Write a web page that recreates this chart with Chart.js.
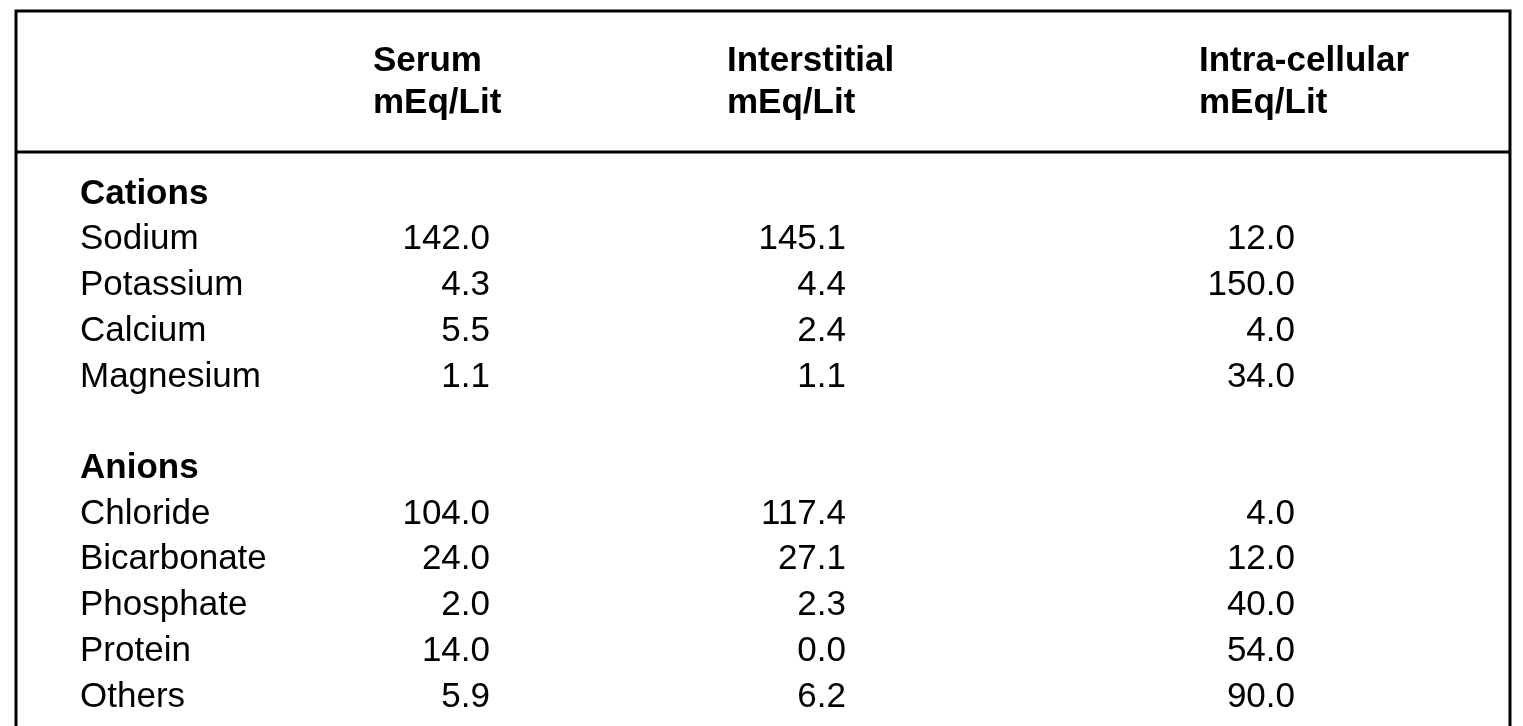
<!DOCTYPE html>
<html><head><meta charset="utf-8">
<script src="https://cdn.jsdelivr.net/npm/chart.js@4"></script>
<style>html,body{margin:0;padding:0;background:#fff}#w{width:1523px;height:726px}</style>
</head><body><div id="w"><canvas id="c"></canvas></div>
<script>
const columns = ['Serum', 'Interstitial', 'Intra-cellular'];
const unitLabel = 'mEq/Lit';
const rows = ['Cations','Sodium','Potassium','Calcium','Magnesium','','Anions','Chloride','Bicarbonate','Phosphate','Protein','Others'];
const groupRows = ['Cations','Anions'];
const serum = [null,142.0,4.3,5.5,1.1,null,null,104.0,24.0,2.0,14.0,5.9];
const interstitial = [null,145.1,4.4,2.4,1.1,null,null,117.4,27.1,2.3,0.0,6.2];
const intracellular = [null,12.0,150.0,4.0,34.0,null,null,4.0,12.0,40.0,54.0,90.0];
const seriesList = [serum, interstitial, intracellular];

// layout (styling only)
const labelX = 80, valueRight = [490, 846, 1295], headerLeft = [373, 727, 1199];
const font = '"Liberation Sans", Arial, sans-serif';

const tablePlugin = {
  id: 'table',
  afterDraw(chart) {
    const ctx = chart.ctx, ys = chart.scales.y;
    ctx.save();
    ctx.strokeStyle = '#000'; ctx.lineWidth = 3;
    ctx.beginPath();
    ctx.moveTo(16, 730); ctx.lineTo(16, 11); ctx.lineTo(1510, 11); ctx.lineTo(1510, 730);
    ctx.moveTo(16, 152); ctx.lineTo(1510, 152);
    ctx.stroke();
    ctx.fillStyle = '#000'; ctx.textBaseline = 'middle';
    ctx.font = 'bold 35px ' + font; ctx.textAlign = 'left';
    columns.forEach((c, i) => {
      ctx.fillText(c, headerLeft[i], 61);
      ctx.fillText(unitLabel, headerLeft[i], 103);
    });
    rows.forEach((r, i) => {
      if (!r) return;
      const y = ys.getPixelForValue(i);
      ctx.textAlign = 'left';
      ctx.font = (groupRows.includes(r) ? 'bold ' : '') + '35px ' + font;
      ctx.fillText(r, labelX, y);
    });
    ctx.font = '35px ' + font; ctx.textAlign = 'right';
    chart.data.datasets.forEach((ds, di) => {
      ds.data.forEach(p => {
        if (p.v == null) return;
        ctx.fillText(p.v.toFixed(1), valueRight[di], ys.getPixelForValue(p.y));
      });
    });
    ctx.restore();
  }
};

new Chart(document.getElementById('c'), {
  type: 'scatter',
  data: {
    datasets: seriesList.map((s, di) => ({
      label: columns[di],
      data: s.map((v, i) => ({ x: di, y: i, v })).filter(p => p.v != null),
      pointRadius: 0
    }))
  },
  options: {
    responsive: true, maintainAspectRatio: false, animation: false,
    layout: { padding: { top: 194, bottom: 29, left: 0, right: 0 } },
    plugins: { legend: { display: false }, tooltip: { enabled: false } },
    scales: {
      x: { display: false, min: 0, max: 2 },
      y: { display: false, reverse: true, min: 0, max: rows.length - 1 }
    }
  },
  plugins: [tablePlugin]
});
</script></body></html>
